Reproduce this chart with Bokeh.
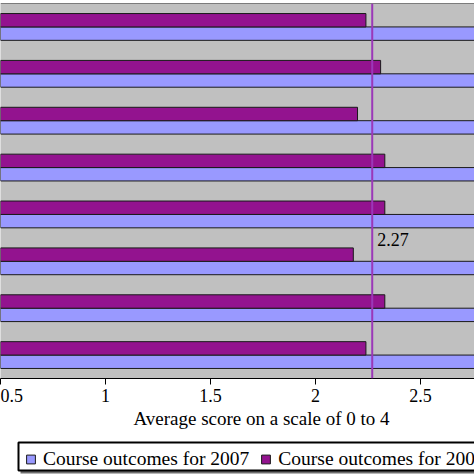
from bokeh.plotting import figure
from bokeh.layouts import column
from bokeh.models import (ColumnDataSource, FactorRange, Range1d, Span, Label, Title,
                          Legend, LegendItem, FixedTicker, NumeralTickFormatter)
from bokeh.transform import dodge
from bokeh.embed import file_html
from bokeh.resources import INLINE

# Course outcome scores (average on a 0-4 scale), listed top to bottom
categories = ["Outcome 1", "Outcome 2", "Outcome 3", "Outcome 4",
              "Outcome 5", "Outcome 6", "Outcome 7", "Outcome 8"]
scores_2007 = [2.95, 3.02, 2.90, 3.08, 2.98, 2.93, 3.05, 2.97]
scores_2008 = [2.24, 2.31, 2.20, 2.33, 2.33, 2.18, 2.33, 2.24]
mean_2008 = 2.27
mean_label = "2.27"
tick_values = [0.5, 1.0, 1.5, 2.0, 2.5]
series_labels = ["Course outcomes for 2007", "Course outcomes for 2008"]
x_title = "Average score on a scale of 0 to 4"

SERIF = "Liberation Serif"
BLUE = "#9999FF"
PURPLE = "#93138F"
MEAN_LINE = "#9B38B8"
PLOT_BG = "#C0C0C0"
EDGE = "#1a1a1a"
SHADOW = "#6e6e6e"

BAR_H = 1 / 3.5  # two bars per category with a 75% gap

src = ColumnDataSource(dict(cat=categories, s07=scores_2007, s08=scores_2008))

p = figure(width=474, height=440,
           y_range=FactorRange(*reversed(categories)),
           x_range=Range1d(0.5, 2.757),
           output_backend="svg", toolbar_location=None,
           y_axis_location=None,
           min_border_left=0, min_border_right=0,
           min_border_top=3, min_border_bottom=62)

p.background_fill_color = PLOT_BG
p.border_fill_color = "white"
p.outline_line_color = None
p.xgrid.visible = False
p.ygrid.visible = False

p.hbar(y=dodge("cat", -BAR_H / 2, range=p.y_range), left=0, right="s07",
       height=BAR_H, source=src, fill_color=BLUE, line_color=EDGE, line_width=1)
p.hbar(y=dodge("cat", BAR_H / 2, range=p.y_range), left=0, right="s08",
       height=BAR_H, source=src, fill_color=PURPLE, line_color=EDGE, line_width=1)

# top edge of the plotting area
p.add_layout(Span(location=len(categories), dimension="width",
                  line_color=EDGE, line_width=1.2))

# 2008 average
p.add_layout(Span(location=mean_2008, dimension="height",
                  line_color=MEAN_LINE, line_width=2))
label_row = 5  # label sits in the gap above this category (counted from top)
p.add_layout(Label(x=mean_2008, y=len(categories) - label_row, x_offset=5, y_offset=-2,
                   text=mean_label, text_font=SERIF, text_font_size="18px",
                   text_color="black", text_baseline="middle"))

ax = p.xaxis[0]
ax.ticker = FixedTicker(ticks=tick_values)
ax.formatter = NumeralTickFormatter(format="0.[0]")
ax.axis_line_color = "black"
ax.axis_line_width = 1
ax.major_tick_line_color = "black"
ax.major_tick_out = 6
ax.major_tick_in = 0
ax.minor_tick_line_color = None
ax.major_label_standoff = 4
ax.major_label_text_font = SERIF
ax.major_label_text_font_size = "18px"
ax.major_label_text_color = "black"

# axis title, set a little right of the frame centre
p.add_layout(Title(text=x_title, align="left", offset=133, standoff=6,
                   vertical_align="top",
                   text_font=SERIF, text_font_size="19px", text_font_style="normal",
                   text_color="black"), "below")

# legend strip underneath the chart, measured in pixels
lp = figure(width=474, height=34, x_range=Range1d(0, 474), y_range=Range1d(0, 34),
            output_backend="svg", toolbar_location=None,
            x_axis_location=None, y_axis_location=None,
            min_border_left=0, min_border_right=0,
            min_border_top=0, min_border_bottom=0)
lp.background_fill_color = "white"
lp.border_fill_color = "white"
lp.outline_line_color = None
lp.xgrid.visible = False
lp.ygrid.visible = False

# legend box with its drop shadow; it runs on past the right edge
lp.quad(left=20, right=490, bottom=1, top=29, fill_color=SHADOW, line_color=None)
lp.quad(left=18, right=490, bottom=4, top=32, fill_color="white",
        line_color="black", line_width=2)

# swatch proxies for the legend, parked outside the strip's visible range
proxy = ColumnDataSource(dict(x=[-20], y=[-20]))
sw07 = lp.scatter("x", "y", source=proxy, marker="square", fill_color=BLUE, line_color=EDGE)
sw08 = lp.scatter("x", "y", source=proxy, marker="square", fill_color=PURPLE, line_color=EDGE)

legend = Legend(items=[LegendItem(label=series_labels[0], renderers=[sw07]),
                       LegendItem(label=series_labels[1], renderers=[sw08])],
                location=(18, 4), orientation="horizontal",
                padding=3, spacing=4, margin=0,
                glyph_width=25, glyph_height=22, label_height=22,
                label_standoff=0,
                label_text_font=SERIF, label_text_font_size="19.5px",
                label_text_color="black",
                border_line_color=None, background_fill_alpha=0)
lp.add_layout(legend, "center")

open("out.html", "w").write(file_html(column(p, lp), INLINE))
